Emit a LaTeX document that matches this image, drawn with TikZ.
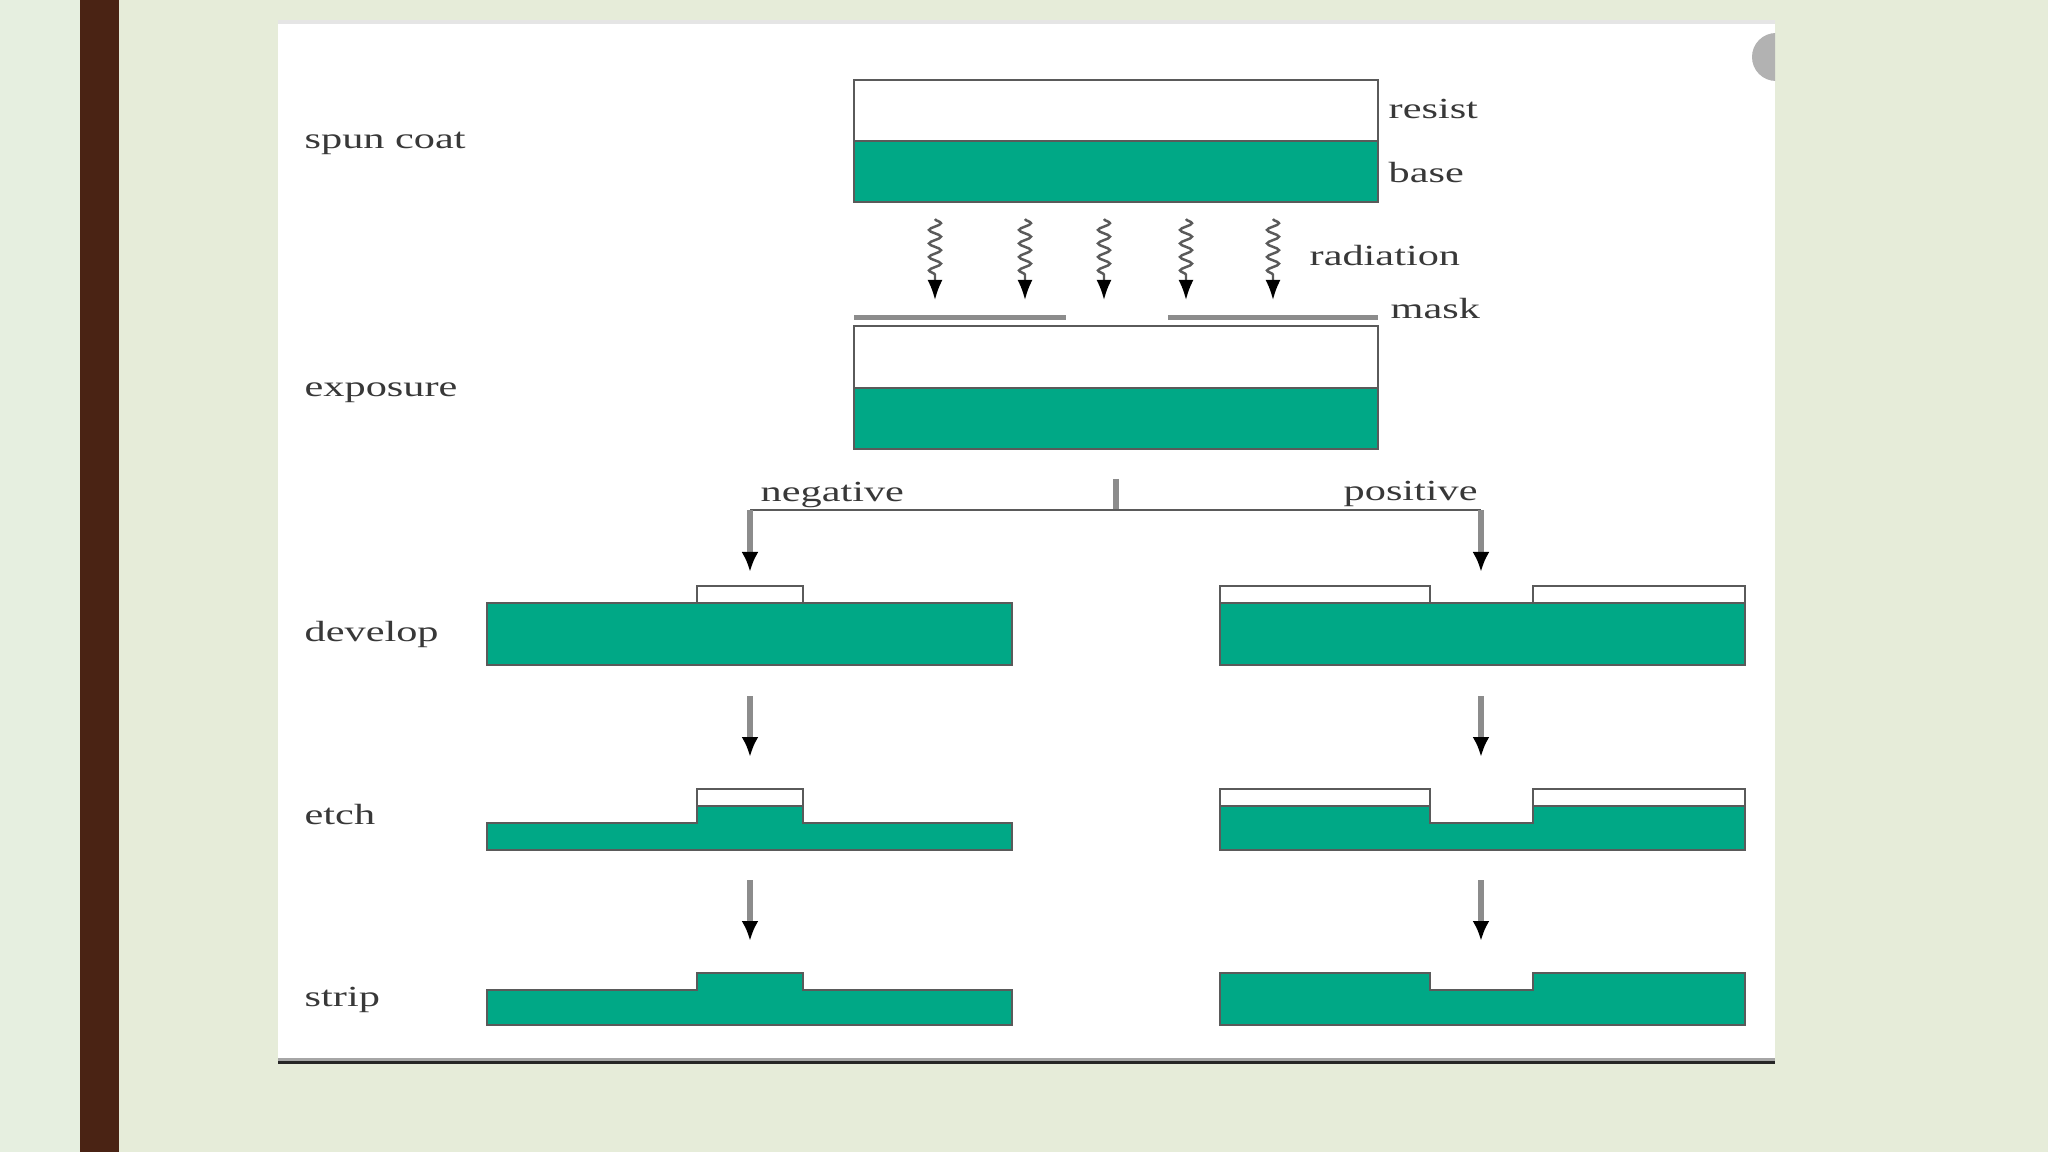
\documentclass[tikz,border=0pt]{standalone}
\usepackage{fontspec}
\usetikzlibrary{decorations.pathmorphing, arrows.meta}
\setmainfont[FakeStretch=1.45]{Liberation Serif}

\definecolor{slidebg}{HTML}{E6ECD9}
\definecolor{slideleft}{HTML}{E6EFE0}
\definecolor{slidebar}{HTML}{4A2314}
\definecolor{basefill}{HTML}{00A886}
\definecolor{edgecol}{HTML}{5A5A5A}
\definecolor{shaftcol}{HTML}{8C8C8C}
\definecolor{textcol}{HTML}{383838}

\tikzset{
	layer/.style = {draw = edgecol, line width = 0.75pt, line join = miter},
	lbl/.style = {anchor = base west, inner sep = 0pt, text = textcol, font = \fontsize{8.3pt}{10pt}\selectfont},
	flow/.style = {-{Latex[black, length = 0.2cm, width = 0.17cm]}, draw = shaftcol, line width = 1.5pt},
	ray/.style = {-{Latex[black, length = 0.2cm, width = 0.15cm]}, draw = edgecol, line width = 0.7pt, decorate, decoration = {snake, amplitude = 0.06cm, segment length = 0.135cm, post length = 0.2cm}}
}

\begin{document}
\begin{tikzpicture}

	% Slide background

	\useasboundingbox (0, 0) rectangle (20.48, -11.52);
	\fill [slidebg] (0, 0) rectangle (20.48, -11.52);
	\fill [slideleft] (0, 0) rectangle (0.8, -11.52);
	\fill [slidebar] (0.8, 0) rectangle (1.19, -11.52);

	% White panel

	\fill [white] (2.78, -0.24) rectangle (17.75, -10.6);
	\fill [black!10] (2.78, -0.2) rectangle (17.75, -0.24);
	\begin{scope}
		\clip (2.78, -0.24) rectangle (17.75, -10.6);
		\fill [black!30] (17.76, -0.57) circle (0.24);
	\end{scope}
	\fill [black!35] (2.78, -10.58) rectangle (17.75, -10.61);
	\fill [black!85] (2.78, -10.61) rectangle (17.75, -10.64);

	% Spun coat

	\draw [layer, fill = white] (8.54, -0.8) rectangle (13.78, -1.41);
	\draw [layer, fill = basefill] (8.54, -1.41) rectangle (13.78, -2.02);
	\node [lbl] (spun) at (3.04, -1.49) {spun coat};
	\node [lbl] (resist) at (13.88, -1.19) {resist};
	\node [lbl] (base) at (13.88, -1.83) {base};

	% Radiation and mask

	\foreach \x [count = \i] in {9.35, 10.25, 11.04, 11.86, 12.73} {
		\coordinate (raytop\i) at (\x, -2.19);
		\coordinate (raybot\i) at (\x, -3);
		\draw [ray] (raytop\i) -- (raybot\i);
	}
	\node [lbl] (radiation) at (13.09, -2.66) {radiation};
	\draw [draw = shaftcol, line width = 1.3pt] (8.54, -3.175) -- (10.66, -3.175);
	\draw [draw = shaftcol, line width = 1.3pt] (11.68, -3.175) -- (13.78, -3.175);
	\node [lbl] (mask) at (13.9, -3.19) {mask};

	% Exposure

	\draw [layer, fill = white] (8.54, -3.26) rectangle (13.78, -3.88);
	\draw [layer, fill = basefill] (8.54, -3.88) rectangle (13.78, -4.49);
	\node [lbl] (exposure) at (3.04, -3.96) {exposure};

	% Branch to negative and positive

	\coordinate (stub) at (11.16, -4.79);
	\coordinate (fork) at (11.16, -5.1);
	\coordinate (negstart) at (7.5, -5.1);
	\coordinate (posstart) at (14.81, -5.1);
	\coordinate (negend) at (7.5, -5.72);
	\coordinate (posend) at (14.81, -5.72);
	\draw [draw = shaftcol, line width = 1.5pt] (stub) -- (fork);
	\draw [draw = edgecol, line width = 0.7pt] (negstart) -- (posstart);
	\draw [flow] (negstart) -- (negend);
	\draw [flow] (posstart) -- (posend);
	\node [lbl] (negative) at (7.6, -5.02) {negative};
	\node [lbl] (positive) at (13.43, -5.01) {positive};

	% Develop

	\draw [layer, fill = white] (6.97, -6.03) -- (6.97, -5.86) -- (8.03, -5.86) -- (8.03, -6.03) -- cycle;
	\draw [layer, fill = white] (12.2, -6.03) -- (12.2, -5.86) -- (14.3, -5.86) -- (14.3, -6.03) -- cycle;
	\draw [layer, fill = white] (15.33, -6.03) -- (15.33, -5.86) -- (17.45, -5.86) -- (17.45, -6.03) -- cycle;
	\draw [layer, fill = basefill] (4.87, -6.03) rectangle (10.12, -6.65);
	\draw [layer, fill = basefill] (12.2, -6.03) rectangle (17.45, -6.65);
	\node [lbl] (develop) at (3.04, -6.42) {develop};

	% Arrows between the steps

	\foreach \col/\x in {neg/7.5, pos/14.81} {
		\coordinate (\col a) at (\x, -6.96);
		\coordinate (\col b) at (\x, -7.57);
		\coordinate (\col c) at (\x, -8.8);
		\coordinate (\col d) at (\x, -9.41);
		\draw [flow] (\col a) -- (\col b);
		\draw [flow] (\col c) -- (\col d);
	}

	% Etch

	\draw [layer, fill = white] (6.97, -8.06) rectangle (8.03, -7.89);
	\draw [layer, fill = white] (12.2, -8.06) rectangle (14.3, -7.89);
	\draw [layer, fill = white] (15.33, -8.06) rectangle (17.45, -7.89);
	\draw [layer, fill = basefill] (4.87, -8.23) -- (6.97, -8.23) -- (6.97, -8.06) -- (8.03, -8.06) -- (8.03, -8.23) -- (10.12, -8.23) -- (10.12, -8.5) -- (4.87, -8.5) -- cycle;
	\draw [layer, fill = basefill] (12.2, -8.06) -- (14.3, -8.06) -- (14.3, -8.23) -- (15.33, -8.23) -- (15.33, -8.06) -- (17.45, -8.06) -- (17.45, -8.5) -- (12.2, -8.5) -- cycle;
	\node [lbl] (etch) at (3.04, -8.25) {etch};

	% Strip

	\draw [layer, fill = basefill] (4.87, -9.9) -- (6.97, -9.9) -- (6.97, -9.73) -- (8.03, -9.73) -- (8.03, -9.9) -- (10.12, -9.9) -- (10.12, -10.25) -- (4.87, -10.25) -- cycle;
	\draw [layer, fill = basefill] (12.2, -9.73) -- (14.3, -9.73) -- (14.3, -9.9) -- (15.33, -9.9) -- (15.33, -9.73) -- (17.45, -9.73) -- (17.45, -10.25) -- (12.2, -10.25) -- cycle;
	\node [lbl] (strip) at (3.04, -10.06) {strip};

\end{tikzpicture}
\end{document}
